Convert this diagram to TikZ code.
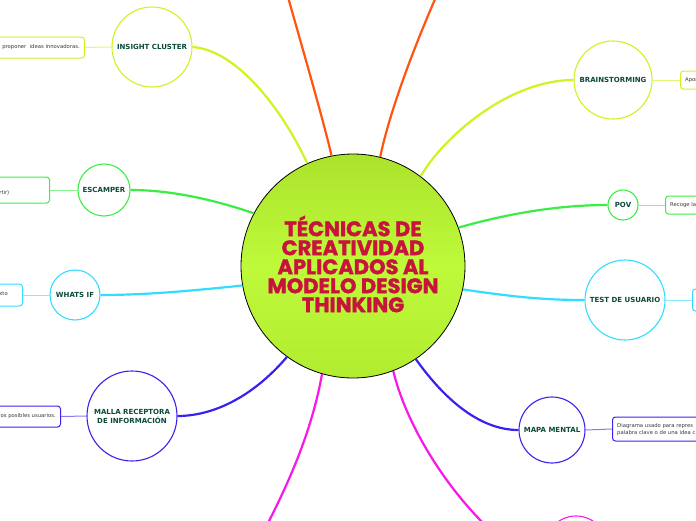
\documentclass[tikz,border=0pt]{standalone}
\usepackage{fontspec}
\setmainfont{DejaVu Sans}
\newfontfamily\cfont{Poppins}[BoldFeatures={FakeBold=1.6}]
\definecolor{cyg}{HTML}{CCF522}
\definecolor{cgr}{HTML}{3BEE44}
\definecolor{ccy}{HTML}{33DDFF}
\definecolor{cbl}{HTML}{3A22EE}
\definecolor{cpk}{HTML}{F818E8}
\definecolor{cor}{HTML}{FF5511}
\definecolor{ctxt}{HTML}{0B4A3A}
\definecolor{cred}{HTML}{C8143C}
\definecolor{cbox}{HTML}{3A3A3A}
\definecolor{ctop}{HTML}{ABE32B}
\definecolor{cmid}{HTML}{BEF93A}
\definecolor{cbot}{HTML}{B2EC30}
\tikzset{
  sat/.style={circle,draw=#1,line width=1.1pt,fill=white,inner sep=0pt,
    font=\fontsize{7}{9}\selectfont\bfseries,text=ctxt,align=center},
  conn/.style={draw=#1,line width=2.2pt},
  lnk/.style={draw=#1!60,line width=1pt},
  box/.style={draw=#1,line width=1pt,rounded corners=3pt,fill=white},
  boxtext/.style={font=\fontsize{5.3}{7}\selectfont,text=cbox,inner sep=0pt,align=left}
}
\begin{document}
\begin{tikzpicture}[x=1pt,y=-1pt]
\useasboundingbox (0,0) rectangle (696,520);
\clip (0,0) rectangle (696,520);
\fill[white] (0,0) rectangle (696,520);
% central
\node[circle,minimum size=224pt,inner sep=0pt,draw=black,line width=0.8pt,
  top color=ctop, bottom color=cbot, middle color=cmid] (c) at (353,266) {};
\node[font=\cfont\bfseries\fontsize{21}{19}\selectfont,text=cred,align=center] (ct) at (353,264)
  {TÉCNICAS DE\\CREATIVIDAD\\APLICADOS AL\\MODELO DESIGN\\THINKING};
% satellites
\node[sat=cyg,minimum size=80pt] (ins) at (152,47) {INSIGHT CLUSTER};
\node[sat=cyg,minimum size=78pt] (bra) at (613,80) {BRAINSTORMING};
\node[sat=cgr,minimum size=52pt] (esc) at (104,190) {ESCAMPER};
\node[sat=cgr,minimum size=30pt] (pov) at (623,205) {POV};
\node[sat=ccy,minimum size=50pt] (wha) at (75,295) {WHATS IF};
\node[sat=ccy,minimum size=80pt] (tes) at (625,300) {TEST DE USUARIO};
\node[sat=cbl,minimum size=90pt] (mal) at (132,416) {MALLA RECEPTORA\\DE INFORMACIÓN};
\node[sat=cbl,minimum size=66pt] (map) at (552,430) {MAPA MENTAL};
\node[sat=cpk,minimum size=62pt] (pk) at (576,547) {};
% free ends
\coordinate (o1) at (288,-3);
\coordinate (o2) at (436,-3);
\coordinate (p1) at (267,525);
\coordinate (p2) at (485,525);
% connectors
\draw[conn=cyg] (c.114) .. controls (280,105) and (235,50) .. (ins.east);
\draw[conn=cyg] (c.53) .. controls (445,135) and (510,80) .. (bra.west);
\draw[conn=cgr] (c.152) .. controls (200,195) and (160,190) .. (esc.east);
\draw[conn=cgr] (c.20) .. controls (520,210) and (570,205) .. (pov.west);
\draw[conn=ccy] (c.190) .. controls (180,292) and (140,295) .. (wha.east);
\draw[conn=ccy] (c.-12) .. controls (520,298) and (550,300) .. (tes.west);
\draw[conn=cbl] (c.234) .. controls (250,400) and (210,416) .. (mal.east);
\draw[conn=cbl] (c.-56) .. controls (445,400) and (480,430) .. (map.west);
\draw[conn=cpk] (c.-106) .. controls (312,430) and (290,480) .. (p1);
\draw[conn=cpk] (c.-69) .. controls (405,420) and (440,480) .. (p2);
\draw[conn=cor] (c.101) .. controls (322,115) and (300,40) .. (o1);
\draw[conn=cor] (c.76) .. controls (390,110) and (415,45) .. (o2);
% boxes
\node[box=cyg,minimum width=95pt,minimum height=21pt,anchor=east] (b1) at (85,47.5) {};
\node[boxtext,anchor=east] (t1) at (80,47.5) {proponer\ \ ideas innovadoras.};
\node[box=cyg,minimum width=40pt,minimum height=18pt,anchor=west] (b2) at (680,80) {};
\node[boxtext,anchor=west] (t2) at (685,80) {Apor};
\node[box=cgr,minimum width=60pt,minimum height=26pt,anchor=east] (b3) at (50,190) {};
\node[boxtext,anchor=east] (t3) at (9.5,193) {rtir)};
\node[box=cgr,minimum width=60pt,minimum height=18pt,anchor=west] (b4) at (665,205) {};
\node[boxtext,anchor=west] (t4) at (670,205) {Recoge la};
\node[box=ccy,minimum width=33pt,minimum height=22pt,anchor=east] (b5) at (23,295) {};
\node[boxtext,anchor=east] (t5) at (8,294) {xto};
\node[box=ccy,minimum width=30pt,minimum height=22pt,anchor=west] (b6) at (692,300) {};
\node[box=cbl,minimum width=71pt,minimum height=21pt,anchor=east] (b7) at (61,416.5) {};
\node[boxtext,anchor=east] (t7) at (56,416.5) {os posibles usuarios.};
\node[box=cbl,minimum width=100pt,minimum height=24pt,anchor=west] (b8) at (612,429) {};
\node[boxtext,anchor=west,font=\fontsize{5.3}{6.8}\selectfont] (t8) at (617,429.5) {Diagrama usado para repres\\palabra clave o de una idea c};
% links
\draw[lnk=cyg] (ins.west) -- (b1.east);
\draw[lnk=cyg] (bra.east) -- (b2.west);
\draw[lnk=cgr] (esc.west) -- (b3.east);
\draw[lnk=cgr] (pov.east) -- (b4.west);
\draw[lnk=ccy] (wha.west) -- (b5.east);
\draw[lnk=ccy] (tes.east) -- (b6.west);
\draw[lnk=cbl] (mal.west) -- (b7.east);
\draw[lnk=cbl] (map.east) -- (b8.west);
\end{tikzpicture}
\end{document}
